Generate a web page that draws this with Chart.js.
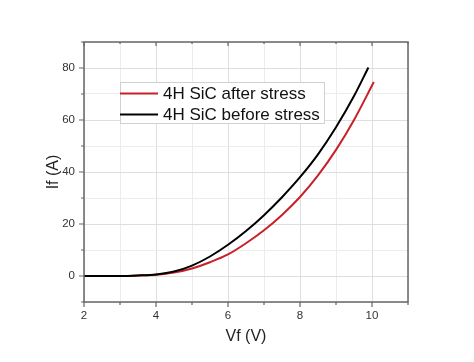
<!DOCTYPE html>
<html>
<head>
<meta charset="utf-8">
<script src="https://cdn.jsdelivr.net/npm/chart.js@4/dist/chart.umd.min.js"></script>
<style>
  body { margin: 0; background: #fff; }
  #grafico { display: block; }
</style>
</head>
<body>
<canvas id="grafico" width="474" height="362"></canvas>
<script>
// Dados
const vfAntes = [2, 3, 3.5, 4, 4.5, 5, 5.5, 6, 6.5, 7, 7.5, 8, 8.5, 9, 9.5, 9.9];
const ifAntes = [0, 0, 0.2, 0.6, 1.7, 4.0, 7.5, 12.0, 17.3, 23.4, 30.3, 38.0, 46.8, 57.2, 69.2, 80.2];

const vfDepois = [2, 3, 3.5, 4, 4.5, 5, 5.5, 6, 6.5, 7, 7.5, 8, 8.5, 9, 9.5, 10.05];
const ifDepois = [0, 0, 0.2, 0.5, 1.3, 2.9, 5.3, 8.3, 12.6, 17.6, 23.5, 30.4, 38.7, 48.5, 60.0, 74.6];

const rotulos = ["4H SiC after stress", "4H SiC before stress"];
const cores = ["#c8202a", "#000000"];
const xTicksMaiores = [2, 4, 6, 8, 10];
const yTicksMaiores = [0, 20, 40, 60, 80];

const fonte = "'Liberation Sans', Arial, sans-serif";
const pontos = (xs, ys) => xs.map((x, i) => ({ x, y: ys[i] }));

const corGrade = (ctx, maiores) =>
  maiores.includes(ctx.tick.value) ? "#dedede" : "#ececec";

/* --- Moldura, ticks e legenda desenhados à mão --- */
const molduraPlugin = {
  id: "moldura",
  afterDraw(chart) {
    const { ctx, chartArea: a, scales } = chart;
    ctx.save();
    ctx.strokeStyle = "#666";
    ctx.lineWidth = 1.5;
    ctx.strokeRect(a.left, a.top, a.right - a.left, a.bottom - a.top);

    ctx.lineWidth = 1.2;
    ctx.beginPath();
    for (let v = 2; v <= 11; v++) {
      const px = scales.x.getPixelForValue(v);
      const maior = xTicksMaiores.includes(v);
      ctx.moveTo(px, a.bottom);
      ctx.lineTo(px, a.bottom + (maior ? 5 : 3));
      ctx.moveTo(px, a.top);
      ctx.lineTo(px, a.top + (maior ? 4 : 2));
    }
    for (let v = -10; v <= 90; v += 10) {
      const py = scales.y.getPixelForValue(v);
      const len = yTicksMaiores.includes(v) ? 5 : 3;
      ctx.moveTo(a.left, py);
      ctx.lineTo(a.left - len, py);
    }
    ctx.stroke();

    // legenda
    const bx = 120, by = 82, bw = 204, bh = 41;
    ctx.fillStyle = "#fff";
    ctx.fillRect(bx, by, bw, bh);
    ctx.strokeStyle = "#d0d0d0";
    ctx.lineWidth = 1;
    ctx.strokeRect(bx + 0.5, by + 0.5, bw, bh);
    ctx.font = "17px " + fonte;
    ctx.textBaseline = "middle";
    rotulos.forEach((txt, i) => {
      const y = by + 11.5 + i * 21;
      ctx.strokeStyle = cores[i];
      ctx.lineWidth = 2;
      ctx.beginPath();
      ctx.moveTo(bx, y);
      ctx.lineTo(bx + 38, y);
      ctx.stroke();
      ctx.fillStyle = "#111";
      ctx.fillText(txt, bx + 43, y + 1);
    });
    ctx.restore();
  }
};

const ctx = document.getElementById("grafico").getContext("2d");

new Chart(ctx, {
  type: "line",
  data: {
    datasets: [
      {
        label: rotulos[0],
        data: pontos(vfDepois, ifDepois),
        borderColor: cores[0],
        borderWidth: 2,
        pointRadius: 0,
        cubicInterpolationMode: "monotone",
        order: 1
      },
      {
        label: rotulos[1],
        data: pontos(vfAntes, ifAntes),
        borderColor: cores[1],
        borderWidth: 2,
        pointRadius: 0,
        cubicInterpolationMode: "monotone",
        order: 0
      }
    ]
  },
  options: {
    responsive: false,
    animation: false,
    layout: { padding: { top: 42, right: 66, left: 0, bottom: 0 } },
    plugins: {
      legend: { display: false },
      tooltip: { enabled: false }
    },
    scales: {
      x: {
        type: "linear",
        min: 2,
        max: 11,
        afterFit: (s) => { s.height = 60; },
        ticks: {
          stepSize: 1,
          padding: 7,
          color: "#333",
          font: { size: 11.5, family: fonte },
          maxRotation: 0,
          autoSkip: false,
          callback: (v) => (xTicksMaiores.includes(v) ? String(v) : "")
        },
        grid: {
          drawTicks: false,
          color: (c) => corGrade(c, xTicksMaiores)
        },
        border: { display: false },
        title: {
          display: true,
          text: "Vf (V)",
          color: "#222",
          font: { size: 16, family: fonte },
          padding: { top: 0, bottom: 15.7 }
        }
      },
      y: {
        type: "linear",
        min: -10,
        max: 90,
        afterFit: (s) => { s.width = 84; },
        ticks: {
          stepSize: 10,
          padding: 9,
          color: "#333",
          font: { size: 11.5, family: fonte },
          autoSkip: false,
          callback: (v) => (yTicksMaiores.includes(v) ? String(v) : "")
        },
        grid: {
          drawTicks: false,
          color: (c) => corGrade(c, yTicksMaiores)
        },
        border: { display: false },
        title: {
          display: true,
          text: "If (A)",
          color: "#222",
          font: { size: 16, family: fonte },
          padding: { top: 44.4, bottom: 0 }
        }
      }
    }
  },
  plugins: [molduraPlugin]
});
</script>
</body>
</html>
